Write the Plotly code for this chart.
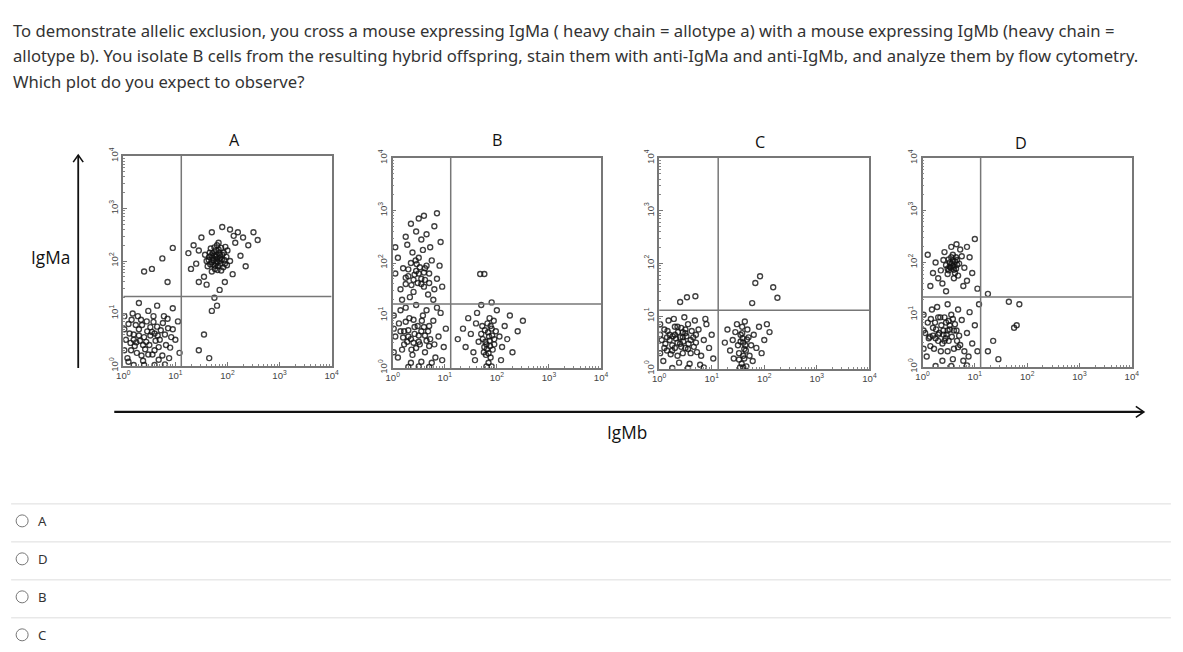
import numpy as np
import plotly.graph_objects as go

# The photographed page shows the body's 8px default margin and is scaled from 1199x667 to 1183x652;
# page-pixel targets below are mapped through that so they land where the reference has them.
REF_W, REF_H = 1183, 652
VIEW_W, VIEW_H, BODY_MARGIN = 1199, 667, 8
W, H = 1183, 651
SX, SY = VIEW_W / REF_W, VIEW_H / REF_H

# ---------------- data (log10 exponents of fluorescence) ----------------
panel_names = ["A", "B", "C", "D"]

A_upper = [(1.80,2.05),(1.75,2.10),(1.85,2.00),(1.70,1.98),(1.90,2.12),(1.78,2.20),(1.65,2.08),(1.95,1.95),(1.82,1.90),(1.72,2.15),
           (1.88,2.25),(1.60,2.00),(1.98,2.08),(1.76,1.85),(1.84,2.16),(1.68,2.24),(1.92,1.88),(1.80,2.30),(1.62,1.90),(2.00,2.20),
           (1.74,2.02),(1.86,2.06),(1.70,1.80),(1.94,2.02),(1.78,1.96),(1.66,2.16),(1.88,1.82),(1.83,2.35),(1.57,2.12),(2.05,2.00),
           (1.45,2.20),(1.40,1.95),(2.15,2.35),(2.25,2.10),(1.55,1.70),(2.10,1.75),(1.50,2.45),(2.30,2.45),(1.35,2.30),(2.40,2.30),
           (1.60,1.55),(1.95,1.60),(2.20,2.55),(1.25,2.15),(2.50,2.55),(1.70,2.55),(2.05,2.60),(1.45,1.60),(2.35,1.90),(1.90,2.65),
           (2.58,2.40),(1.30,1.85),(1.85,1.45),(2.12,2.48),(1.77,2.08),(1.81,1.99),(1.73,1.93),
           (1.79,2.12),(1.71,2.06),(1.87,1.95),(1.83,2.22),(1.67,1.94),(1.93,2.16),(1.75,2.26),(1.89,2.03),(1.64,2.02),(1.81,1.83),
           (1.96,2.27),(1.69,2.11),(1.86,2.12),(1.76,1.91),(1.99,1.92)]
A_lower = [(0.05,0.50),(0.10,0.80),(0.15,0.30),(0.20,0.60),(0.25,0.45),(0.30,0.70),(0.35,0.20),(0.40,0.55),(0.45,0.85),(0.50,0.40),
           (0.55,0.65),(0.60,0.30),(0.65,0.75),(0.70,0.50),(0.75,0.20),(0.80,0.60),(0.85,0.90),(0.90,0.35),(0.95,0.70),(1.00,0.50),
           (0.08,0.15),(0.18,1.00),(0.28,0.95),(0.38,0.10),(0.48,1.05),(0.58,0.95),(0.68,0.12),(0.78,0.95),(0.88,0.15),(1.05,0.85),
           (0.12,0.62),(0.22,0.38),(0.32,0.48),(0.42,0.32),(0.52,0.58),(0.62,0.48),(0.72,0.68),(0.82,0.40),(0.36,0.78),(0.46,0.66),
           (0.56,0.22),(0.66,0.58),(0.26,0.25),(0.16,0.88),(0.76,0.82),(0.02,0.30),(0.02,0.95),(0.02,0.70),(0.40,0.02),(0.60,0.02),
           (0.20,0.02),(0.80,0.03),(0.95,1.10),(0.30,1.20),(0.65,1.15),(1.08,0.25),
           (0.30,0.58),(0.44,0.46),(0.52,0.74),(0.24,0.78),(0.60,0.62),(0.38,0.40),(0.68,0.36),(0.14,0.44),(0.48,0.22),(0.34,0.88),
           (0.58,0.84),(0.86,0.72),(0.10,0.08),(0.92,0.55),(0.20,0.50)]
A_scatter = [(0.95,2.25),(0.75,2.05),(0.55,1.85),(0.85,1.60),(0.40,1.80),(1.75,1.30),(1.80,1.15),(1.70,1.05),(1.65,0.15),
             (1.55,0.60),(1.45,0.30)]

B_upper = [(0.30,1.75),(0.45,1.85),(0.55,1.70),(0.65,1.95),(0.35,2.00),(0.50,2.10),(0.70,1.80),(0.25,1.60),(0.60,1.55),(0.40,1.45),
           (0.75,2.05),(0.20,1.90),(0.85,1.70),(0.48,1.62),(0.58,2.25),(0.38,2.20),(0.68,1.40),(0.15,1.50),(0.80,1.50),(0.90,1.95),
           (0.28,2.35),(0.52,1.92),(0.42,1.78),(0.62,1.68),(0.33,1.35),(0.10,2.10),(0.72,2.30),(0.95,1.55),(0.55,2.45),(0.45,2.60),
           (0.65,2.55),(0.80,2.70),(0.35,2.75),(0.60,2.90),(0.85,2.95),(0.25,2.50),(0.50,2.85),(0.92,2.40),(0.05,1.80),(0.05,2.30),
           (0.18,1.30),(0.78,1.30),(0.60,1.82),(0.46,1.98),(0.36,1.58),
           (0.50,1.80),(0.40,1.68),(0.62,1.90),(0.30,1.88),(0.55,1.60),(0.70,1.62),(0.44,2.05),(0.25,1.72)]
B_lower = [(0.05,0.60),(0.12,0.85),(0.18,0.35),(0.22,0.70),(0.28,0.50),(0.32,0.95),(0.38,0.25),(0.42,0.65),(0.48,0.80),(0.52,0.45),
           (0.58,1.00),(0.62,0.30),(0.68,0.70),(0.72,0.55),(0.78,0.90),(0.82,0.20),(0.88,0.60),(0.92,1.05),(0.98,0.40),(1.02,0.75),
           (0.10,0.20),(0.15,1.10),(0.25,1.15),(0.35,0.10),(0.45,1.20),(0.55,0.12),(0.65,1.10),(0.75,0.10),(0.85,1.15),(0.95,0.15),
           (0.20,0.58),(0.30,0.72),(0.40,0.48),(0.50,0.62),(0.60,0.78),(0.70,0.42),(0.35,0.55),(0.45,0.38),(0.55,0.70),(0.25,0.88),
           (0.65,0.52),(0.40,0.92),(0.02,0.30),(0.02,1.00),(0.02,0.75),(0.30,0.02),(0.70,0.02),(0.50,0.03),
           (0.30,0.60),(0.42,0.78),(0.50,0.50),(0.22,0.45),(0.62,0.62),(0.36,0.35),(0.15,0.70),(0.56,0.90),(0.70,0.80),(0.80,0.45)]
B_right = [(1.85,0.60),(1.80,0.45),(1.90,0.75),(1.75,0.30),(1.95,0.55),(1.82,0.85),(1.70,0.65),(1.88,0.20),(1.78,0.50),(1.92,0.35),
           (1.86,0.95),(1.72,0.80),(1.98,0.70),(1.84,0.10),(1.76,0.40),(1.94,0.90),(1.65,0.50),(2.05,0.60),(1.60,0.85),(2.10,0.40),
           (1.55,0.30),(2.15,0.80),(1.50,0.65),(2.20,0.55),(1.62,1.05),(2.00,1.10),(1.45,0.95),(2.25,1.00),(1.40,0.40),(2.30,0.30),
           (1.35,0.75),(2.40,0.70),(1.70,1.20),(1.90,1.25),(1.58,0.15),(2.08,0.15),(1.80,0.03),(1.90,0.03),(1.25,0.55),(2.50,0.90),
           (1.83,0.68),(1.79,0.25),(1.87,0.42),
           (1.86,0.52),(1.81,0.36),(1.91,0.62),(1.77,0.72),(1.84,0.28),(1.73,0.55),(1.95,0.45),(1.88,0.80)]
B_scatter = [(1.68,1.79),(1.76,1.79)]

C_left = [(0.05,0.55),(0.10,0.75),(0.15,0.35),(0.20,0.65),(0.25,0.45),(0.30,0.80),(0.35,0.25),(0.40,0.60),(0.45,0.70),(0.50,0.40),
          (0.55,0.85),(0.60,0.30),(0.65,0.60),(0.70,0.50),(0.75,0.75),(0.80,0.25),(0.85,0.55),(0.90,0.85),(0.95,0.40),(1.00,0.65),
          (0.08,0.15),(0.18,0.92),(0.28,0.95),(0.38,0.12),(0.48,0.98),(0.58,0.10),(0.68,0.92),(0.78,0.08),(0.88,0.95),(1.03,0.20),
          (0.12,0.48),(0.22,0.28),(0.32,0.58),(0.42,0.42),(0.52,0.62),(0.62,0.72),(0.72,0.32),(0.36,0.70),(0.46,0.52),(0.56,0.48),
          (0.26,0.62),(0.16,0.72),(0.66,0.42),(0.42,0.78),(0.30,0.40),(0.50,0.75),(0.02,0.30),(0.02,0.85),(0.02,0.65),(0.25,0.02),
          (0.55,0.02),(0.85,0.03),(0.35,0.50),(0.45,0.60),
          (0.30,0.65),(0.40,0.48),(0.20,0.55),(0.50,0.68),(0.60,0.55),(0.35,0.80),(0.45,0.30),(0.25,0.35),(0.15,0.60),(0.55,0.38),
          (0.70,0.65),(0.10,0.40)]
C_right = [(1.60,0.50),(1.55,0.65),(1.65,0.35),(1.50,0.45),(1.70,0.60),(1.58,0.80),(1.62,0.20),(1.45,0.70),(1.68,0.75),(1.52,0.30),
           (1.75,0.45),(1.40,0.55),(1.57,0.10),(1.63,0.90),(1.48,0.85),(1.72,0.25),(1.35,0.35),(1.80,0.65),(1.30,0.75),(1.85,0.40),
           (1.66,0.05),(1.54,0.03),(1.60,0.03),(1.25,0.50),(1.90,0.80),(2.00,0.55),(2.05,0.85),(1.95,0.30),(2.10,0.70),(1.42,0.20),
           (1.78,0.15),(1.59,0.58),(1.64,0.45),
           (1.58,0.68),(1.62,0.38),(1.55,0.52),(1.67,0.56),(1.52,0.18),(1.60,0.25)]
C_scatter = [(0.40,1.27),(0.53,1.36),(0.69,1.38),(1.83,1.63),(1.92,1.76),(2.17,1.55),(2.25,1.35),(1.77,1.25)]

D_upper = [(0.58,1.94),(0.52,2.00),(0.64,1.88),(0.50,1.85),(0.66,2.05),(0.55,2.10),(0.62,1.80),(0.45,1.95),(0.70,1.98),(0.58,2.15),
           (0.48,1.78),(0.68,1.75),(0.40,2.05),(0.75,2.12),(0.60,1.70),(0.35,1.85),(0.80,1.90),(0.42,2.20),(0.72,2.25),(0.30,1.70),
           (0.85,1.65),(0.55,2.30),(0.25,2.00),(0.90,2.10),(0.38,1.60),(0.78,1.55),(0.65,2.35),(0.20,1.80),(0.95,1.80),(0.60,1.92),
           (0.54,1.90),(0.62,2.02),(0.15,1.55),(1.00,2.45),(0.85,2.30),(0.45,1.45),(0.10,2.15),(1.05,1.50),
           (0.56,1.98),(0.60,1.86),(0.52,1.92),(0.66,1.96),(0.58,2.04),(0.50,2.06),(0.64,2.10),(0.48,1.88)]
D_lower = [(0.05,0.65),(0.10,0.85),(0.15,0.40),(0.20,0.75),(0.25,0.55),(0.30,0.95),(0.35,0.30),(0.40,0.70),(0.45,0.85),(0.50,0.50),
           (0.55,1.00),(0.60,0.35),(0.65,0.70),(0.70,0.60),(0.75,0.90),(0.80,0.30),(0.85,0.65),(0.90,1.05),(0.95,0.45),(1.00,0.80),
           (0.08,0.20),(0.18,1.10),(0.28,1.15),(0.38,0.12),(0.48,1.20),(0.58,0.15),(0.68,1.10),(0.78,0.12),(0.88,0.20),(1.05,0.30),
           (0.12,0.55),(0.22,0.35),(0.32,0.65),(0.42,0.50),(0.52,0.72),(0.62,0.82),(0.72,0.42),(0.36,0.80),(0.46,0.62),(0.56,0.58),
           (0.26,0.72),(0.16,0.92),(0.66,0.50),(0.42,0.95),(0.30,0.50),(0.50,0.88),(0.02,0.35),(0.02,1.00),(0.02,0.70),(0.25,0.02),
           (0.55,0.02),(0.85,0.03),(0.40,0.62),(0.48,0.70),
           (0.30,0.62),(0.44,0.55),(0.52,0.80),(0.24,0.85),(0.60,0.70),(0.38,0.45),(0.68,0.38),(0.14,0.58),(0.48,0.30),(0.34,0.95),
           (0.58,0.92),(0.20,0.60)]
D_scatter = [(1.25,1.40),(1.65,1.25),(1.85,1.20),(1.80,0.80),(1.75,0.75),(1.35,0.50),(1.25,0.30),(1.45,0.15),(1.08,1.20)]

panel_points = [A_upper + A_lower + A_scatter,
                B_upper + B_lower + B_right + B_scatter,
                C_left + C_right + C_scatter,
                D_upper + D_lower + D_scatter]

# quadrant gate positions (IgMb gate, IgMa gate), fluorescence units
gate_x = [13.0, 13.0, 13.3, 12.9]
gate_y = [21.0, 16.6, 13.0, 22.0]

tick_vals = [1, 10, 100, 1000, 10000]
tick_text = ["10<sup>0</sup>", "10<sup>1</sup>", "10<sup>2</sup>", "10<sup>3</sup>", "10<sup>4</sup>"]

question_lines = [
    "To demonstrate allelic exclusion, you cross a mouse expressing IgMa ( heavy chain = allotype a) with a mouse expressing IgMb (heavy chain =",
    "allotype b). You isolate B cells from the resulting hybrid offspring, stain them with anti-IgMa and anti-IgMb, and analyze them by flow cytometry.",
    "Which plot do you expect to observe?",
]
answer_options = ["A", "D", "B", "C"]

# ---------------- layout geometry (reference pixels) ----------------
boxes = [(124, 332, 155, 365), (393, 601, 157, 367), (659, 869, 157, 368), (922, 1131, 157, 366)]
title_pos = [(235, 139), (497, 139), (760, 141), (1020, 142)]


def px(x):
    return (x * SX - BODY_MARGIN) / W


def py(y):
    return 1 - (y * SY - BODY_MARGIN) / H


def fs(size):
    return size * SX


fig = go.Figure()
layout = dict(width=W, height=H, margin=dict(l=0, r=0, t=0, b=0),
              paper_bgcolor="white", plot_bgcolor="white", showlegend=False)

FRAME = "#777777"
for i, (pts, box) in enumerate(zip(panel_points, boxes)):
    n = "" if i == 0 else str(i + 1)
    xa, ya = "x" + n, "y" + n
    xs = 10 ** np.array([p[0] for p in pts])
    ys = 10 ** np.array([p[1] for p in pts])
    fig.add_trace(go.Scatter(x=xs, y=ys, mode="markers", xaxis=xa, yaxis=ya,
                             marker=dict(size=5, symbol="circle-open", color="#111111", opacity=0.8,
                                         line=dict(width=1.4, color="#111111")),
                             hoverinfo="skip"))
    fig.add_trace(go.Scatter(x=[gate_x[i], gate_x[i]], y=[1, 10000], mode="lines", xaxis=xa, yaxis=ya,
                             line=dict(color=FRAME, width=1.5), hoverinfo="skip"))
    fig.add_trace(go.Scatter(x=[1, 10000], y=[gate_y[i], gate_y[i]], mode="lines", xaxis=xa, yaxis=ya,
                             line=dict(color=FRAME, width=1.5), hoverinfo="skip"))
    l, r, t, b = box
    common = dict(type="log", range=[0, 4], showgrid=False, zeroline=False, showline=True, mirror=True,
                  linecolor=FRAME, linewidth=1.5, ticks="inside", ticklen=4, tickcolor=FRAME,
                  tickmode="array", tickvals=tick_vals, ticktext=tick_text,
                  tickfont=dict(size=fs(9.5), color="#444444", family="Liberation Sans"),
                  minor=dict(ticks="inside", ticklen=2, tickcolor="#888888", dtick="D1"))
    layout["xaxis" + n] = dict(common, domain=[px(l), px(r)], anchor=ya)
    layout["yaxis" + n] = dict(common, domain=[py(b), py(t)], anchor=xa, tickangle=-90)

fig.update_layout(**layout)

TXT = "#333333"
ann = []
for k, line in enumerate(question_lines):
    ann.append(dict(x=px(12), y=py(29 + 25.5 * k), xref="paper", yref="paper", text=line, showarrow=False,
                    xanchor="left", yanchor="middle", font=dict(family="Noto Sans", size=fs(16.45), color=TXT)))
for name, (x, y) in zip(panel_names, title_pos):
    ann.append(dict(x=px(x), y=py(y), xref="paper", yref="paper", text=name, showarrow=False,
                    xanchor="center", yanchor="middle", font=dict(family="Open Sans", size=fs(16), color="#111111")))
ann.append(dict(x=px(51), y=py(256), xref="paper", yref="paper", text="IgMa", showarrow=False,
                xanchor="center", yanchor="middle", font=dict(family="Open Sans", size=fs(17), color="#111111")))
ann.append(dict(x=px(627), y=py(432), xref="paper", yref="paper", text="IgMb", showarrow=False,
                xanchor="center", yanchor="middle", font=dict(family="Open Sans", size=fs(17), color="#111111")))

shapes = []
# axis arrows
shapes.append(dict(type="line", xref="paper", yref="paper", x0=px(79), x1=px(79), y0=py(367), y1=py(154),
                   line=dict(color="#111111", width=1.8)))
shapes.append(dict(type="path", xref="paper", yref="paper",
                   path=f"M {px(74)} {py(161)} L {px(79)} {py(154)} L {px(84)} {py(161)}",
                   line=dict(color="#111111", width=1.6)))
shapes.append(dict(type="line", xref="paper", yref="paper", x0=px(115), x1=px(1142), y0=py(411), y1=py(411),
                   line=dict(color="#111111", width=2.2)))
shapes.append(dict(type="path", xref="paper", yref="paper",
                   path=f"M {px(1135)} {py(405.5)} L {px(1143)} {py(411)} L {px(1135)} {py(416.5)}",
                   line=dict(color="#111111", width=1.6)))

# answer options
for k, opt in enumerate(answer_options):
    ysep = 503 + 38 * k
    shapes.append(dict(type="line", xref="paper", yref="paper", x0=px(12), x1=px(1170), y0=py(ysep), y1=py(ysep),
                       line=dict(color="#dddddd", width=1)))
    yc = 520 + 38 * k
    shapes.append(dict(type="circle", xref="paper", yref="paper", x0=px(17), x1=px(29), y0=py(yc + 6), y1=py(yc - 6),
                       line=dict(color="#777777", width=1)))
    ann.append(dict(x=px(37), y=py(yc), xref="paper", yref="paper", text=opt, showarrow=False,
                    xanchor="left", yanchor="middle", font=dict(family="Noto Sans", size=fs(13), color=TXT)))

fig.update_layout(annotations=ann, shapes=shapes)
fig.write_html("out.html")
